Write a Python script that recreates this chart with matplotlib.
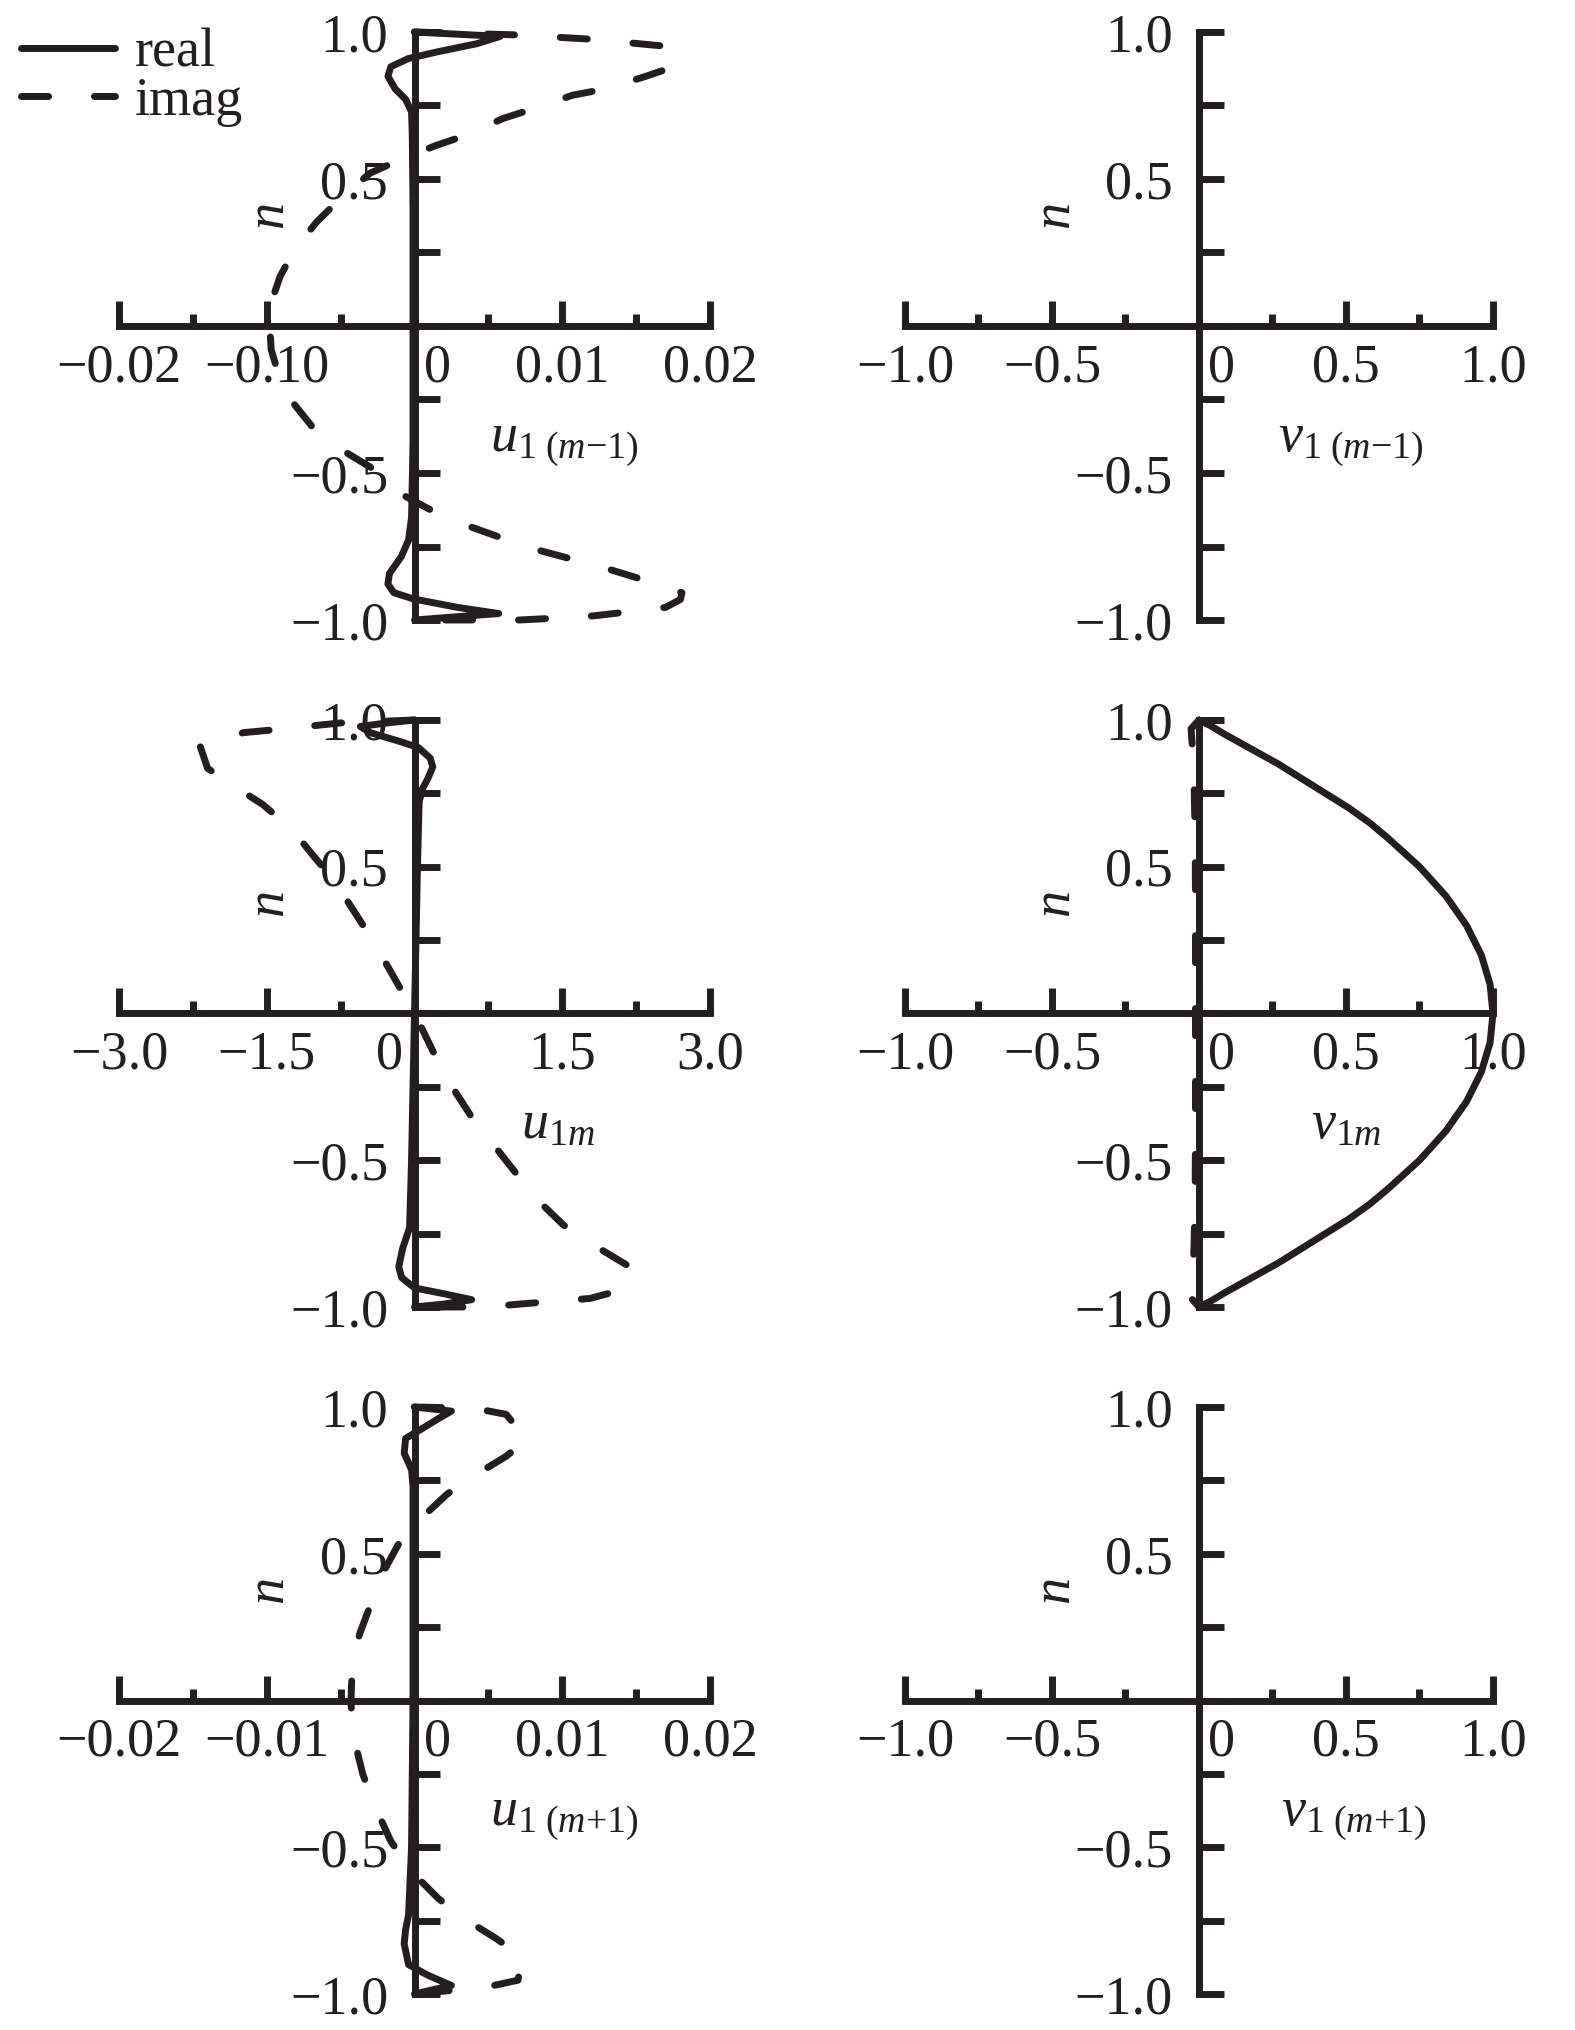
import matplotlib
matplotlib.use('Agg')
import matplotlib.pyplot as plt
import matplotlib.transforms as mtrans

plt.rcParams['font.family'] = ['Liberation Serif', 'DejaVu Serif']
plt.rcParams['mathtext.fontset'] = 'custom'
plt.rcParams['mathtext.rm'] = 'Liberation Serif'
plt.rcParams['mathtext.it'] = 'Liberation Serif:italic'
plt.rcParams['axes.unicode_minus'] = True

# ---------------- data ----------------
# common n axis ticks
y_major = [-1.0, -0.5, 0.5, 1.0]
y_labels = ['\u22121.0', '\u22120.5', '0.5', '1.0']
y_minor = [-0.75, -0.25, 0.0, 0.25, 0.75]

# x ticks for u panels and v panels
u_small_major = [-0.02, -0.01, 0.0, 0.01, 0.02]
u_small_minor = [-0.015, -0.005, 0.005, 0.015]
u_top_labels = ['\u22120.02', '\u22120.10', '0', '0.01', '0.02']
u_bot_labels = ['\u22120.02', '\u22120.01', '0', '0.01', '0.02']
u_mid_major = [-3.0, -1.5, 0.0, 1.5, 3.0]
u_mid_minor = [-2.25, -0.75, 0.75, 2.25]
u_mid_labels = ['\u22123.0', '\u22121.5', '0', '1.5', '3.0']
v_major = [-1.0, -0.5, 0.0, 0.5, 1.0]
v_minor = [-0.75, -0.25, 0.25, 0.75]
v_labels = ['\u22121.0', '\u22120.5', '0', '0.5', '1.0']

# u_1(m-1)
n_um1_real = [1.0, 0.985, 0.96, 0.933, 0.91, 0.882, 0.849, 0.806, 0.771, 0.728, 0.65, 0.4, 0.0,
              -0.4, -0.65, -0.728, -0.785, -0.842, -0.878, -0.907, -0.928, -0.957, -0.978, -1.0]
u_um1_real = [0.0, 0.0058, 0.0042, 0.0016, -0.0004, -0.0016, -0.0018, -0.0013, -0.0006, -0.0002, -0.00015, -0.0001, -0.0001,
              -0.0001, -0.0002, -0.0004, -0.0009, -0.0017, -0.0018, -0.0014, -0.0001, 0.0029, 0.0057, 0.0]
n_um1_imag = [1.0, 0.99, 0.975, 0.95, 0.92, 0.881, 0.85, 0.806, 0.785, 0.74, 0.706, 0.649, 0.613, 0.563, 0.52,
              0.434, 0.355, 0.262, 0.168, 0.08, 0.0, -0.08, -0.183, -0.269, -0.369, -0.419, -0.498, -0.577,
              -0.642, -0.685, -0.728, -0.764, -0.799, -0.828, -0.871, -0.907, -0.93, -0.957, -0.971, -0.986,
              -0.993, -1.0, -1.0]
u_um1_imag = [0.0, 0.0070, 0.0121, 0.0173, 0.0178, 0.0175, 0.0157, 0.0129, 0.0107, 0.0081, 0.0060, 0.0035, 0.0014,
              -0.0011, -0.0030, -0.0050, -0.0066, -0.0081, -0.0091, -0.0097, -0.0098, -0.0097, -0.0091, -0.0081,
              -0.0065, -0.0050, -0.0024, -0.0007, 0.0017, 0.0039, 0.0063, 0.0085, 0.0111, 0.0132, 0.0160, 0.0181,
              0.0180, 0.0170, 0.0147, 0.0121, 0.0098, 0.0071, 0.0]

# u_1m
n_u1m_real = [1.0, 0.99, 0.978, 0.957, 0.928, 0.906, 0.87, 0.84, 0.80, 0.763, 0.72, 0.5, 0.0,
              -0.5, -0.73, -0.80, -0.863, -0.90, -0.935, -0.955, -0.975, -0.99, -1.0]
u_u1m_real = [0.0, -0.28, -0.55, -0.45, -0.16, 0.04, 0.16, 0.185, 0.135, 0.076, 0.047, 0.03, 0.0,
              -0.03, -0.05, -0.12, -0.16, -0.13, 0.0, 0.30, 0.58, 0.30, 0.0]
n_u1m_imag = [1.0, 0.99, 0.967, 0.957, 0.914, 0.835, 0.77, 0.712, 0.626, 0.547, 0.446, 0.367, 0.252, 0.165,
              0.065, 0.0, -0.137, -0.223, -0.353, -0.446, -0.54, -0.626, -0.72, -0.777, -0.856, -0.935, -0.971,
              -0.978, -0.99, -1.0, -1.0]
u_u1m_imag = [0.0, -0.75, -1.415, -1.735, -2.18, -2.10, -1.81, -1.54, -1.24, -1.05, -0.80, -0.65, -0.43, -0.28,
              -0.11, 0.0, 0.20, 0.33, 0.58, 0.80, 1.02, 1.22, 1.51, 1.76, 2.15, 2.18, 1.78, 1.51, 1.07, 0.73, 0.0]

# u_1(m+1)
n_up1_real = [1.0, 0.986, 0.96, 0.929, 0.893, 0.843, 0.786, 0.73, 0.5, 0.0,
              -0.5, -0.729, -0.78, -0.829, -0.9, -0.936, -0.971, -1.0]
u_up1_real = [0.0, 0.0025, 0.0016, 0.0006, -0.0006, -0.0007, -0.0002, -0.0001, -0.0001, -0.0001,
              -0.0002, -0.0004, -0.0006, -0.0007, -0.0004, 0.0009, 0.0025, 0.0]
n_up1_imag = [1.0, 0.996, 0.975, 0.889, 0.832, 0.774, 0.703, 0.609, 0.531, 0.430, 0.323, 0.229, 0.136, 0.0,
              -0.108, -0.251, -0.358, -0.48, -0.588, -0.674, -0.738, -0.81, -0.875, -0.953, -0.975, -1.0]
u_up1_imag = [0.0, 0.0040, 0.0062, 0.0076, 0.0062, 0.0043, 0.0022, 0.0002, -0.0011, -0.0022, -0.0030, -0.0037,
              -0.0042, -0.0043, -0.0042, -0.0035, -0.0027, -0.0016, -0.0001, 0.0016, 0.0032, 0.0055, 0.0073,
              0.0070, 0.0050, 0.0]

# v_1m
n_v1m_real = [1.0, 0.98, 0.95, 0.9, 0.85, 0.8, 0.75, 0.7, 0.65, 0.6, 0.5, 0.4, 0.3, 0.2, 0.1, 0.0,
              -0.1, -0.2, -0.3, -0.4, -0.5, -0.6, -0.65, -0.7, -0.75, -0.8, -0.85, -0.9, -0.95, -0.98, -1.0]
v_v1m_real = [0.0, 0.04, 0.09, 0.18, 0.27, 0.35, 0.43, 0.51, 0.58, 0.64, 0.75, 0.84, 0.91, 0.96, 0.99, 1.0,
              0.99, 0.96, 0.91, 0.84, 0.75, 0.64, 0.58, 0.51, 0.43, 0.35, 0.27, 0.18, 0.09, 0.04, 0.0]
n_v1m_imag = [1.0, 0.97, 0.9, 0.8, 0.6, 0.4, 0.2, 0.0, -0.2, -0.4, -0.6, -0.8, -0.9, -0.97, -1.0]
v_v1m_imag = [0.0, -0.027, -0.022, -0.017, -0.013, -0.012, -0.012, -0.012, -0.012, -0.012, -0.013,
              -0.017, -0.022, -0.027, 0.0]

# v_1(m-1), v_1(m+1): lie on the axis
n_v_side = [1.0, -1.0]
v_vm1_real = [0.0, 0.0]
v_vm1_imag = [0.0, 0.0]
v_vp1_real = [0.0, 0.0]
v_vp1_imag = [0.0, 0.0]

# ---------------- style ----------------
INK = '#231f20'
FS = 39
LW = 5.0
DASH = (0, (3.9, 6.6))

fig = plt.figure(figsize=(15.75, 20.3), dpi=100)

rows = [(0.69458, 0.28966), (0.35616, 0.28916), (0.01773, 0.28916)]
cols = [(0.07556, 0.37524), (0.5746, 0.37333)]


def make_axes(col, row, xlim, xmaj, xmin, xlabs, zero_dx, label, label_x):
    x0, w = cols[col]
    y0, h = rows[row]
    ax = fig.add_axes([x0, y0, w, h])
    ax.set_xlim(*xlim)
    ax.set_ylim(-1, 1)
    ax.patch.set_visible(False)
    for s in ['top', 'right']:
        ax.spines[s].set_visible(False)
    for s in ['left', 'bottom']:
        ax.spines[s].set_position(('data', 0))
        ax.spines[s].set_linewidth(LW)
        ax.spines[s].set_color(INK)
    ax.set_xticks(xmaj)
    ax.set_xticklabels(xlabs)
    ax.set_xticks(xmin, minor=True)
    ax.set_yticks(y_major)
    ax.set_yticklabels(y_labels)
    ax.set_yticks(y_minor, minor=True)
    ax.tick_params(axis='x', which='major', direction='in', length=18, width=LW, color=INK,
                   labelsize=FS, labelcolor=INK, pad=12)
    ax.tick_params(axis='x', which='minor', direction='in', length=9, width=LW, color=INK)
    ax.tick_params(axis='y', which='both', direction='in', length=18, width=LW, color=INK,
                   labelsize=FS, labelcolor=INK, pad=19)
    zl = ax.xaxis.get_major_ticks()[2].label1
    zl.set_transform(zl.get_transform() + mtrans.ScaledTranslation(zero_dx / 100.0, 0, fig.dpi_scale_trans))
    ax.text(0.254, 0.69, 'n', style='italic', rotation=90, fontsize=FS, color=INK,
            ha='center', va='center', transform=ax.transAxes)
    ax.text(label_x, 0.2875, label, fontsize=FS, color=INK, ha='left', va='baseline',
            transform=ax.transAxes)
    return ax


def draw(ax, xr, nr, xi, ni):
    lr, = ax.plot(xr, nr, color=INK, lw=LW, clip_on=False, solid_capstyle='round',
                  solid_joinstyle='round', zorder=3, label='real')
    li, = ax.plot(xi, ni, color=INK, lw=LW, clip_on=False, linestyle=DASH, dash_capstyle='round',
                  dash_joinstyle='round', zorder=3, label='imag')
    return lr, li


ax1 = make_axes(0, 0, (-0.02, 0.02), u_small_major, u_small_minor, u_top_labels, 23,
                r'$u_{1\ (m{-}1)}$', 0.628)
lr, li = draw(ax1, u_um1_real, n_um1_real, u_um1_imag, n_um1_imag)

ax2 = make_axes(1, 0, (-1, 1), v_major, v_minor, v_labels, 23, r'$v_{1\ (m{-}1)}$', 0.634)
draw(ax2, v_vm1_real, n_v_side, v_vm1_imag, n_v_side)

ax3 = make_axes(0, 1, (-3, 3), u_mid_major, u_mid_minor, u_mid_labels, -25, r'$u_{1m}$', 0.681)
draw(ax3, u_u1m_real, n_u1m_real, u_u1m_imag, n_u1m_imag)

ax4 = make_axes(1, 1, (-1, 1), v_major, v_minor, v_labels, 23, r'$v_{1m}$', 0.69)
draw(ax4, v_v1m_real, n_v1m_real, v_v1m_imag, n_v1m_imag)

ax5 = make_axes(0, 2, (-0.02, 0.02), u_small_major, u_small_minor, u_bot_labels, 23,
                r'$u_{1\ (m{+}1)}$', 0.628)
draw(ax5, u_up1_real, n_up1_real, u_up1_imag, n_up1_imag)

ax6 = make_axes(1, 2, (-1, 1), v_major, v_minor, v_labels, 23, r'$v_{1\ (m{+}1)}$', 0.639)
draw(ax6, v_vp1_real, n_v_side, v_vp1_imag, n_v_side)

ax1.legend(handles=[lr, li], labels=['real', 'imag'], loc='upper left',
           bbox_to_anchor=(0.0131, 0.9862), bbox_transform=fig.transFigure,
           frameon=False, fontsize=FS, handlelength=1.74, handletextpad=0.37,
           labelspacing=-0.03, borderpad=0, borderaxespad=0, labelcolor=INK)

fig.savefig('out.png', dpi=100)
